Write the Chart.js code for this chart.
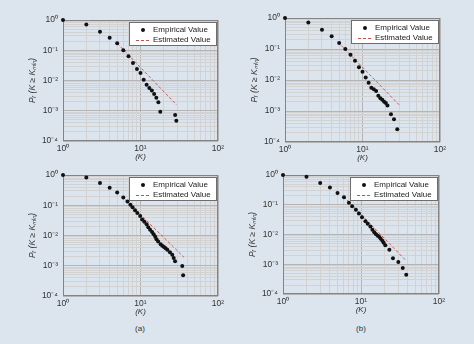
<!DOCTYPE html>
<html>
<head>
<meta charset="utf-8">
<script src="https://cdn.jsdelivr.net/npm/chart.js@4.4.1/dist/chart.umd.min.js"></script>
<style>
  html, body { margin: 0; padding: 0; }
  body {
    width: 474px; height: 344px; position: relative; overflow: hidden;
    background: #dce5ed;
    font-family: "Liberation Sans", Arial, sans-serif;
  }
  canvas { position: absolute; }
  .tag { position: absolute; font-size: 8px; color: #333; transform: translate(-50%, -50%); }
</style>
</head>
<body>
<canvas id="chartA" width="237" height="165" style="left:0;top:0"></canvas>
<canvas id="chartB" width="237" height="165" style="left:237px;top:0"></canvas>
<canvas id="chartC" width="237" height="155" style="left:0;top:165px"></canvas>
<canvas id="chartD" width="237" height="155" style="left:237px;top:165px"></canvas>
<div class="tag" style="left:140px;top:328px">(a)</div>
<div class="tag" style="left:361px;top:328px">(b)</div>

<script>
// data
// top-left panel
const kA = [1, 2, 3, 4, 5, 6, 7, 8, 9, 10, 11, 12, 13, 14, 15, 16, 17, 18, 28, 29];
const pA = [1, 0.71, 0.41, 0.26, 0.17, 0.10, 0.063, 0.038, 0.024, 0.0177, 0.0105, 0.0072,
  0.0056, 0.0047, 0.0036, 0.0027, 0.0019, 0.00093, 0.00072, 0.00047];
const fitKA = [5, 29.3];
const fitPA = [0.17, 0.00155];

// top-right panel
const kB = [1, 2, 3, 4, 5, 6, 7, 8, 9, 10, 11, 12, 13, 14, 15, 16, 17, 18, 19, 20, 21, 23.3, 25.5, 28.1];
const pB = [1, 0.71, 0.42, 0.26, 0.157, 0.1, 0.065, 0.042, 0.026, 0.0185, 0.012, 0.0082,
  0.0056, 0.005, 0.0044, 0.0031, 0.0026, 0.0023, 0.002, 0.0018, 0.0015, 0.00078, 0.00054, 0.00026];
const fitKB = [4.8, 29.5];
const fitPB = [0.17, 0.0016];

// bottom-left panel (a)
const kC = [1, 2, 3, 4, 5, 6.0, 6.8, 7.4, 7.9, 8.5, 9.1, 9.9, 10.5, 11.2, 12.0, 12.6, 13.3, 14.1,
  14.8, 15.5, 16.1, 16.9, 18.2, 19.1, 20.1, 21.1, 22.2, 24.0, 25.7, 26.8, 27.9, 34.6, 35.5];
const pC = [1, 0.84, 0.55, 0.38, 0.265, 0.182, 0.135, 0.105, 0.086, 0.069, 0.056, 0.044, 0.034,
  0.0286, 0.0235, 0.0188, 0.0157, 0.0132, 0.0111, 0.0091, 0.0076, 0.0064, 0.0052, 0.0046,
  0.0042, 0.0038, 0.0034, 0.0028, 0.0023, 0.0018, 0.0014, 0.00098, 0.00049];
const fitKC = [5.7, 36.5];
const fitPC = [0.2, 0.0019];

// bottom-right panel (b)
const kD = [1, 2, 3, 4, 5, 6.05, 7.0, 7.7, 8.6, 9.4, 10.3, 11.4, 12.2, 13.2, 14.0, 14.8, 15.6,
  16.4, 17.2, 17.9, 18.8, 19.5, 20.5, 23.1, 25.7, 30.1, 34.3, 38];
const pD = [1, 0.88, 0.54, 0.38, 0.25, 0.18, 0.117, 0.089, 0.068, 0.051, 0.038, 0.028, 0.023,
  0.0185, 0.0144, 0.012, 0.0102, 0.0092, 0.0082, 0.0072, 0.0062, 0.0053, 0.0044, 0.0031,
  0.0016, 0.0012, 0.00075, 0.00044];
const fitKD = [6, 38];
const fitPD = [0.19, 0.0013];

// axis ticks
const xTickValues = [1, 10, 100];
const xTickLabels = ['10\u2070', '10\u00B9', '10\u00B2'];
const yTickValues = [1e-4, 1e-3, 1e-2, 1e-1, 1];
const yTickLabels = ['10\u207B\u2074', '10\u207B\u00B3', '10\u207B\u00B2', '10\u207B\u00B9', '10\u2070'];
const seriesNames = ['Empirical Value', 'Estimated Value'];

const font = '"Liberation Sans", Arial, sans-serif';
const fitColor = '#c8504a';

function logTicks(min, max) {
  const out = [];
  for (let e = Math.round(Math.log10(min)); e < Math.round(Math.log10(max)); e++) {
    for (let m = 1; m <= 9; m++) out.push(Number((m * Math.pow(10, e)).toPrecision(6)));
  }
  out.push(max);
  return out;
}

function labelFor(value, values, labels) {
  const i = values.findIndex(v => Math.abs(Math.log10(v) - Math.log10(value)) < 1e-6);
  return i < 0 ? '' : labels[i];
}

function isDecade(v) {
  if (!v) return false;
  const l = Math.log10(v);
  return Math.abs(l - Math.round(l)) < 1e-6;
}

const gridColor = ctx => isDecade(ctx.tick && ctx.tick.value) ? '#b4b4b4' : '#d2d2d2';

// axes frame
const frame = {
  id: 'frame',
  beforeDatasetsDraw(chart) {
    const { ctx, chartArea: a } = chart;
    ctx.save();
    ctx.strokeStyle = '#848484';
    ctx.lineWidth = 1;
    ctx.strokeRect(Math.round(a.left) + 0.5, Math.round(a.top) + 0.5,
      Math.round(a.right - a.left) - 1, Math.round(a.bottom - a.top) - 1);
    ctx.restore();
  }
};

// legend box in the upper right corner of the axes
const insetLegend = {
  id: 'insetLegend',
  afterDraw(chart) {
    const { ctx, chartArea: a } = chart;
    const w = 88, h = 24;
    const x = Math.round(a.right) - w - 1, y = Math.round(a.top) + 2;
    ctx.save();
    ctx.fillStyle = '#fff';
    ctx.fillRect(x, y, w, h);
    ctx.strokeStyle = '#6e6e6e';
    ctx.lineWidth = 1;
    ctx.strokeRect(x + 0.5, y + 0.5, w - 1, h - 1);
    ctx.fillStyle = '#111';
    ctx.beginPath();
    ctx.arc(x + 14, y + 8, 2, 0, Math.PI * 2);
    ctx.fill();
    ctx.strokeStyle = fitColor;
    ctx.setLineDash([3, 2]);
    ctx.beginPath();
    ctx.moveTo(x + 7, y + 18.5);
    ctx.lineTo(x + 22, y + 18.5);
    ctx.stroke();
    ctx.setLineDash([]);
    ctx.fillStyle = '#222';
    ctx.font = '8px ' + font;
    ctx.textBaseline = 'middle';
    ctx.fillText(seriesNames[0], x + 24, y + 8);
    ctx.fillText(seriesNames[1], x + 24, y + 18);
    ctx.restore();
  }
};

function makePanel(id, k, p, fitK, fitP, lay) {
  const xTitleH = 21;
  const cv = document.getElementById(id);
  new Chart(cv, {
    type: 'scatter',
    data: {
      datasets: [
        {
          label: seriesNames[0],
          data: k.map((v, i) => ({ x: v, y: p[i] })),
          backgroundColor: '#111',
          borderWidth: 0,
          pointRadius: 2,
          clip: false
        },
        {
          label: seriesNames[1],
          data: fitK.map((v, i) => ({ x: v, y: fitP[i] })),
          showLine: true,
          borderColor: fitColor,
          borderWidth: 0.9,
          borderDash: [3, 2],
          pointRadius: 0
        }
      ]
    },
    options: {
      responsive: false,
      animation: false,
      layout: {
        padding: { left: 0, top: lay.top, right: lay.right, bottom: cv.height - lay.top - lay.plotH - xTitleH }
      },
      plugins: { legend: { display: false }, tooltip: { enabled: false } },
      scales: {
        x: {
          type: 'logarithmic',
          min: 1,
          max: 100,
          afterBuildTicks: s => { s.ticks = logTicks(1, 100).map(v => ({ value: v })); },
          afterFit: s => { s.height = xTitleH; },
          ticks: {
            autoSkip: false,
            maxRotation: 0,
            padding: 3,
            color: '#333',
            font: { family: font, size: 8.5 },
            callback: v => labelFor(v, xTickValues, xTickLabels)
          },
          grid: { color: gridColor, drawTicks: false },
          border: { display: false },
          title: {
            display: true,
            text: '(K)',
            color: '#333',
            padding: 0,
            font: { family: font, size: 8, style: 'italic' }
          }
        },
        y: {
          type: 'logarithmic',
          min: 1e-4,
          max: 1,
          afterBuildTicks: s => { s.ticks = logTicks(1e-4, 1).map(v => ({ value: v })); },
          afterFit: s => { s.width = lay.yW; },
          ticks: {
            autoSkip: false,
            padding: 5,
            color: '#333',
            font: { family: font, size: 8.5 },
            callback: v => labelFor(v, yTickValues, yTickLabels)
          },
          grid: { color: gridColor, drawTicks: false },
          border: { display: false },
          title: {
            display: true,
            text: 'P\u1D63 (K \u2265 K\u2098\u1D62\u2099)',
            color: '#333',
            padding: { top: lay.yW - 35, bottom: 0 },
            font: { family: font, size: 8.5, style: 'italic' }
          }
        }
      }
    },
    plugins: [frame, insetLegend]
  });
}

makePanel('chartA', kA, pA, fitKA, fitPA, { top: 20, right: 19, yW: 63, plotH: 121 });
makePanel('chartB', kB, pB, fitKB, fitPB, { top: 18, right: 34, yW: 48, plotH: 124 });
makePanel('chartC', kC, pC, fitKC, fitPC, { top: 8, right: 19, yW: 63, plotH: 123 });
makePanel('chartD', kD, pD, fitKD, fitPD, { top: 6, right: 35, yW: 46, plotH: 123 });
</script>
</body>
</html>
